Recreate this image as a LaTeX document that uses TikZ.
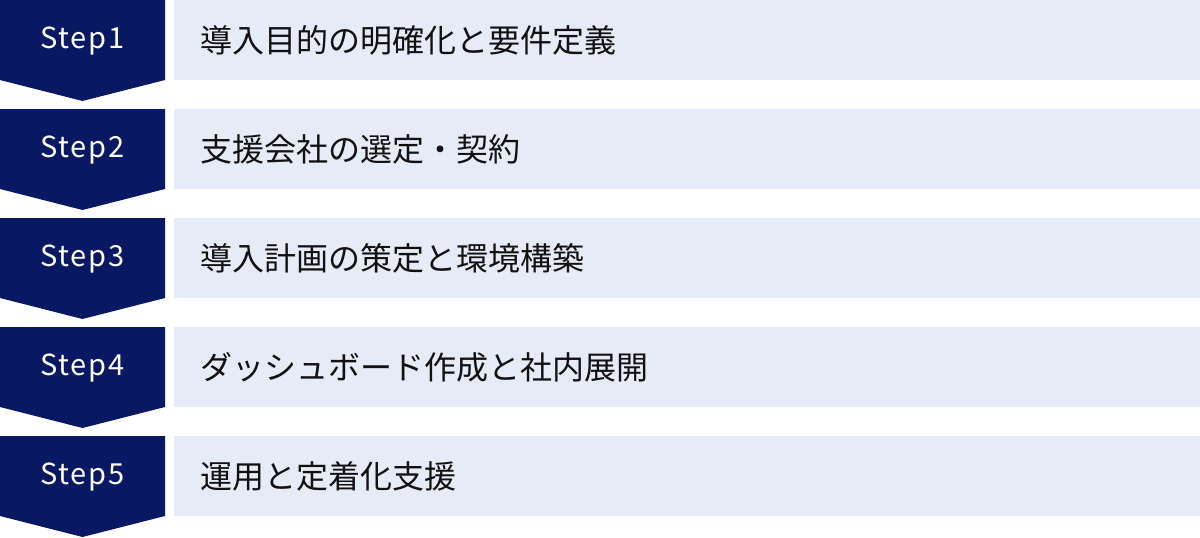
\documentclass[tikz,border=0pt]{standalone}
\usepackage{fontspec}
\setmainfont{Noto Sans CJK JP}
\newfontfamily\jpfont{Noto Sans CJK JP}
\newfontfamily\stepfont[LetterSpace=6]{Noto Sans CJK JP}
\definecolor{navy}{HTML}{081862}
\definecolor{pale}{HTML}{E6EBF8}
\definecolor{ink}{HTML}{111111}
\tikzset{
  stepshape/.style={fill=navy, draw=none},
  bar/.style={fill=pale, draw=none, minimum width=1026pt, minimum height=80pt, anchor=north west, inner sep=0pt},
  steplabel/.style={text=white, font=\stepfont\fontsize{29}{34}\selectfont, anchor=center, inner sep=0pt},
  desc/.style={text=ink, font=\jpfont\fontsize{32}{36}\selectfont, anchor=west, inner sep=0pt}
}
\begin{document}
\begin{tikzpicture}[x=1pt,y=-1pt]
\useasboundingbox (0,0) rectangle (1200,538);
\foreach \i/\t in {1/導入目的の明確化と要件定義,2/支援会社の選定・契約,3/導入計画の策定と環境構築,4/ダッシュボード作成と社内展開,5/運用と定着化支援}{
  \pgfmathsetmacro{\y}{(\i-1)*109}
  \fill[stepshape] (0,\y) -- (165,\y) -- (165,\y+80) -- (82.5,\y+101) -- (0,\y+80) -- cycle;
  \node[steplabel] (s\i) at (82.5,\y+41) {Step\i};
  \node[bar] (b\i) at (174,\y) {};
  \node[desc] (d\i) at (200,\y+40) {\t};
}
\end{tikzpicture}
\end{document}
